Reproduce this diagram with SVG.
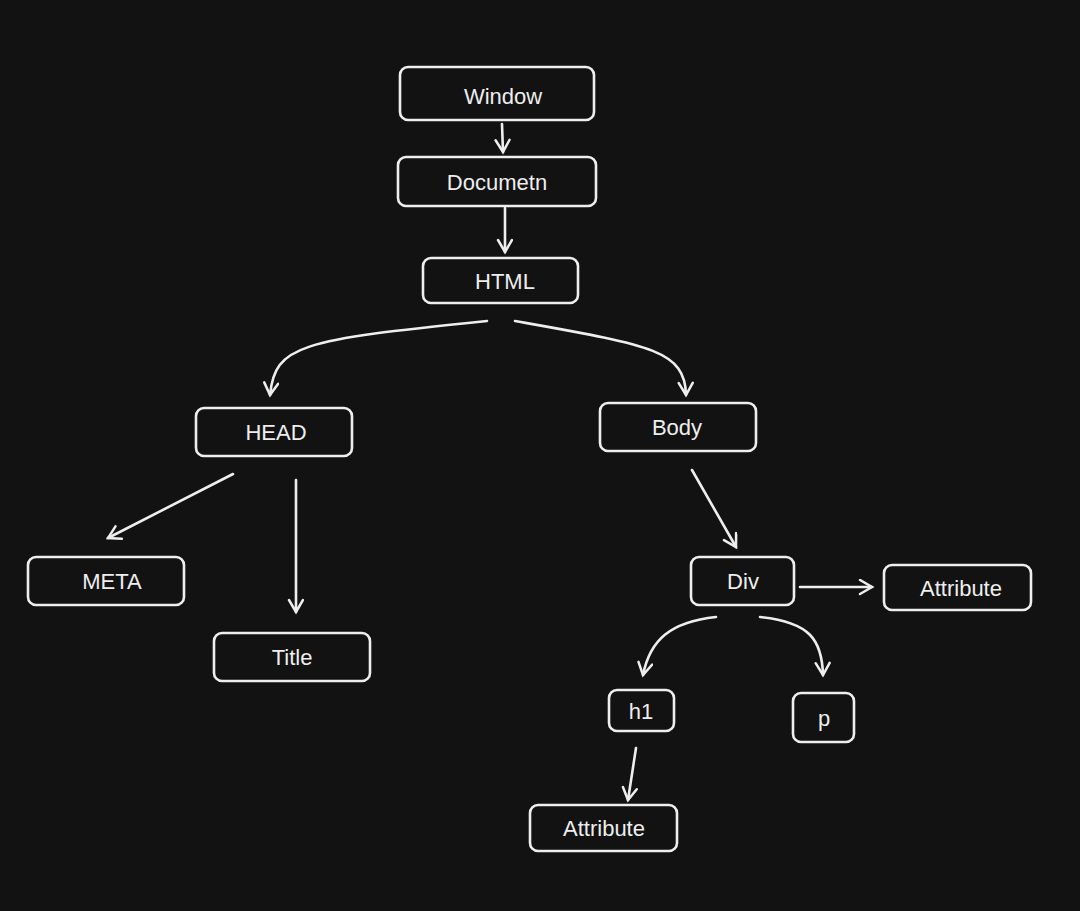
<svg xmlns="http://www.w3.org/2000/svg" width="1080" height="911" viewBox="0 0 1080 911">
<defs>
<marker id="a" markerWidth="20" markerHeight="20" refX="14" refY="8" orient="auto" markerUnits="userSpaceOnUse"><path d="M2,1 L14,8 L2,15" fill="none" stroke="#eee" stroke-width="2.5" stroke-linecap="round"/></marker>
<style>
.n rect{fill:none;stroke:#eee;stroke-width:2.6;rx:8}
.n text{fill:#eee;font-family:"Liberation Sans",sans-serif;font-size:22px;text-anchor:middle;dominant-baseline:central}
.c path{fill:none;stroke:#eee;stroke-width:2.6;stroke-linecap:round;marker-end:url(#a)}
</style>
</defs>
<rect width="1080" height="911" fill="#121212"/>
<g class="c">
<path d="M502,124 L503,152"/>
<path d="M505,208 L505,252"/>
<path d="M487,321 C300,340 275,345 270,395"/>
<path d="M515,321 C650,345 685,350 686,395"/>
<path d="M233,474 L108,538"/>
<path d="M296,480 L296,612"/>
<path d="M692,470 L736,547"/>
<path d="M800,587 L872,587"/>
<path d="M716,617 C670,622 650,640 643,675"/>
<path d="M760,617 C810,622 822,640 823,675"/>
<path d="M636,748 L628,800"/>
</g>
<g class="n" id="window"><rect x="400" y="67" width="194" height="53"/><text x="503" y="96">Window</text></g>
<g class="n" id="document"><rect x="398" y="157" width="198" height="49"/><text x="497" y="182">Documetn</text></g>
<g class="n" id="html"><rect x="423" y="258" width="155" height="45"/><text x="505" y="281">HTML</text></g>
<g class="n" id="head"><rect x="196" y="408" width="156" height="48"/><text x="276" y="432">HEAD</text></g>
<g class="n" id="body"><rect x="600" y="403" width="156" height="48"/><text x="677" y="427">Body</text></g>
<g class="n" id="meta"><rect x="28" y="557" width="156" height="48"/><text x="112" y="581">META</text></g>
<g class="n" id="title"><rect x="214" y="633" width="156" height="48"/><text x="292" y="657">Title</text></g>
<g class="n" id="div"><rect x="691" y="557" width="103" height="48"/><text x="743" y="581">Div</text></g>
<g class="n" id="attr1"><rect x="884" y="565" width="147" height="45"/><text x="961" y="588">Attribute</text></g>
<g class="n" id="h1"><rect x="609" y="690" width="65" height="41"/><text x="641" y="711">h1</text></g>
<g class="n" id="p"><rect x="793" y="693" width="61" height="49"/><text x="824" y="718">p</text></g>
<g class="n" id="attr2"><rect x="530" y="805" width="147" height="46"/><text x="604" y="828">Attribute</text></g>
</svg>
